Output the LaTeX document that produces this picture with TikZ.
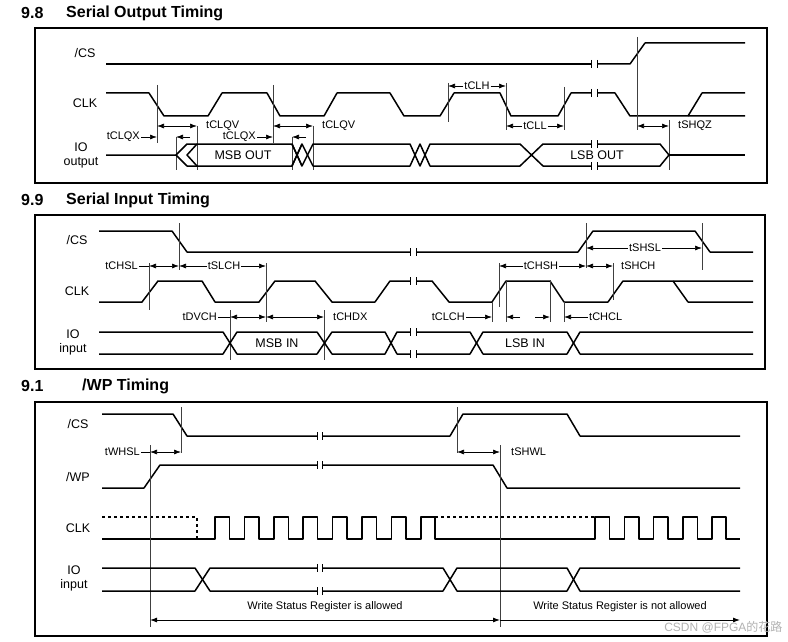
\documentclass[tikz,border=0pt]{standalone}
\usepackage{fontspec}
\setmainfont{Liberation Sans}
\newfontfamily\cjkf{Noto Sans CJK SC}
\usetikzlibrary{arrows.meta}
\begin{document}
\begin{tikzpicture}[x=1pt,y=-1pt,
  sig/.style={line width=1.5pt,line join=round},
  mk/.style={line width=0.7pt,black!75},
  arr/.style={line width=0.7pt,{Latex[length=7pt,width=5pt]}-{Latex[length=7pt,width=5pt]}},
  ra/.style={line width=0.7pt,-{Latex[length=7pt,width=5pt]}},
  box/.style={line width=1.5pt},
  lab/.style={font=\fontsize{12.5}{14}\selectfont},
  tl/.style={font=\fontsize{11}{12}\selectfont,inner sep=1pt},
  ttl/.style={font=\fontsize{16}{17}\selectfont\bfseries,anchor=west,inner sep=0pt}]
\useasboundingbox (0,0) rectangle (788,642);
\newcommand\brk[3]{\draw[line width=0.8pt] (#1,#3-4)--(#1,#3+4) (#2,#3-4)--(#2,#3+4);}
% ================= 9.8 =================
\node[ttl] (t1a) at (21,13) {9.8};
\node[ttl] (t1b) at (66,13) {Serial Output Timing};
\draw[box] (35,28) rectangle (767,183);
\node[lab] (l1a) at (85,53) {/CS};
\node[lab] (l1b) at (85,103) {CLK};
\node[lab,align=center] (l1c) at (81,155) {IO\\output};
% CS
\draw[sig] (106,64)--(591,64);
\draw[sig] (597,64)--(630,64)--(645,43)--(745,43);
\brk{591}{597}{64}
% CLK
\draw[sig] (106,93)--(149,93)--(164,116)--(208,116)--(222,93)--(267,93)--(280,116)--(324,116)--(337,93)--(390,93)--(404,116)--(440,116)--(454,93)--(500,93)--(511,116)--(558,116)--(571,93)--(591,93);
\draw[sig] (597,93)--(615,93)--(630,116)--(745,116);
\draw[sig] (688,116)--(702,93)--(745,93);
\brk{591}{597}{93}
% markers
\draw[mk] (157,85)--(157,143) (273,85)--(273,143) (448,83)--(448,122) (506,83)--(506,130) (564,87)--(564,130) (637,37)--(637,130);
\draw[mk] (176,137)--(176,170) (197,126)--(197,170) (292,137)--(292,170) (313,126)--(313,170) (669,120)--(669,170);
% timing arrows
\draw[arr] (157,126)--(197,126); \node[tl,anchor=west] (q1) at (205,126) {tCLQV};
\draw[arr] (273,126)--(313,126); \node[tl,anchor=west] (q2) at (321,126) {tCLQV};
\node[tl,anchor=east] (x1) at (141,137) {tCLQX};
\draw[ra] (x1.east)--(157,137); \draw[ra] (190,137)--(176,137);
\node[tl,anchor=east] (x2) at (257,137) {tCLQX};
\draw[ra] (x2.east)--(273,137); \draw[ra] (306,137)--(292,137);
\node[tl] (h1) at (477,86) {tCLH};
\draw[ra] (h1.west)--(448,86); \draw[ra] (h1.east)--(506,86);
\node[tl] (h2) at (535,126) {tCLL};
\draw[ra] (h2.west)--(506,126); \draw[ra] (h2.east)--(564,126);
\draw[arr] (637,126)--(669,126); \node[tl,anchor=west] (hz) at (677,126) {tSHQZ};
% IO output
\draw[sig] (106,155)--(176,155)--(187,144)--(292,144)--(302,166)--(313,144)--(410,144)--(420,166)--(430,144)--(520,144)--(543,166)--(591,166);
\draw[sig] (176,155)--(187,166)--(292,166)--(302,144)--(313,166)--(410,166)--(420,144)--(430,166)--(520,166)--(543,144)--(591,144);
\draw[sig] (197,144)--(187,155)--(197,166);
\draw[sig] (292,144)--(302,166) (292,166)--(302,144);
\draw[sig] (597,144)--(660,144)--(669,155)--(660,166)--(597,166);
\draw[sig] (669,155)--(745,155);
\brk{591}{597}{144} \brk{591}{597}{166}
\node[lab] (m1) at (243,155) {MSB OUT};
\node[lab] (m2) at (597,155) {LSB OUT};
% ================= 9.9 =================
\node[ttl] (t2a) at (21,200) {9.9};
\node[ttl] (t2b) at (66,200) {Serial Input Timing};
\draw[box] (35,215) rectangle (765,369);
\node[lab] (l2a) at (77,240) {/CS};
\node[lab] (l2b) at (77,291) {CLK};
\node[lab,align=center] (l2c) at (73,342) {IO\\input};
\draw[sig] (99,231)--(172,231)--(187,252)--(410,252);
\draw[sig] (416,252)--(578,252)--(593,231)--(695,231)--(710,252)--(753,252);
\brk{410}{416}{252}
\draw[sig] (99,302)--(142,302)--(158,281)--(202,281)--(215,302)--(259,302)--(275,281)--(315,281)--(332,302)--(375,302)--(390,281)--(410,281);
\draw[sig] (416,281)--(432,281)--(449,302)--(492,302)--(506,281)--(550,281)--(564,302)--(608,302)--(623,281)--(753,281);
\draw[sig] (673,281)--(688,302)--(753,302);
\brk{410}{416}{281}
% markers
\draw[mk] (179,223)--(179,270) (586,223)--(586,268) (702,223)--(702,270);
\draw[mk] (149,263)--(149,310) (266,263)--(266,322) (499,263)--(499,307) (506,280)--(506,322) (492,302)--(492,322) (550,280)--(550,322) (564,302)--(564,322) (613,263)--(613,300);
\draw[mk] (230,310)--(230,360) (324,310)--(324,360);
% timing
\node[tl,anchor=east] (c1) at (139,266) {tCHSL};
\draw[line width=0.7pt] (c1.east)--(149,266); \draw[arr] (149,266)--(179,266);
\node[tl] (c2) at (224,266) {tSLCH};
\draw[ra] (c2.west)--(179,266); \draw[ra] (c2.east)--(266,266);
\node[tl] (c3) at (645,248) {tSHSL};
\draw[ra] (c3.west)--(586,248); \draw[ra] (c3.east)--(702,248);
\node[tl] (c4) at (541,266) {tCHSH};
\draw[ra] (c4.west)--(499,266); \draw[ra] (c4.east)--(586,266);
\draw[arr] (586,266)--(613,266); \node[tl,anchor=west] (c5) at (620,266) {tSHCH};
\node[tl,anchor=east] (c6) at (466,317) {tCLCH};
\draw[ra] (c6.east)--(492,317); \draw[ra] (520,317)--(506,317);
\draw[ra] (535,317)--(550,317);
\node[tl,anchor=west] (c7) at (588,317) {tCHCL};
\draw[ra] (c7.west)--(564,317);
\node[tl,anchor=east] (c8) at (218,317) {tDVCH};
\draw[line width=0.7pt] (c8.east)--(230,317); \draw[arr] (230,317)--(266,317);
\draw[arr] (266,317)--(324,317); \node[tl,anchor=west] (c9) at (332,317) {tCHDX};
% IO input
\draw[sig] (99,332)--(223,332)--(237,354)--(317,354)--(332,332)--(385,332)--(397,354)--(410,354);
\draw[sig] (99,354)--(223,354)--(237,332)--(317,332)--(332,354)--(385,354)--(397,332)--(410,332);
\draw[sig] (416,332)--(470,332)--(483,354)--(567,354)--(580,332)--(753,332);
\draw[sig] (416,354)--(470,354)--(483,332)--(567,332)--(580,354)--(753,354);
\brk{410}{416}{332} \brk{410}{416}{354}
\node[lab] (m3) at (277,343) {MSB IN};
\node[lab] (m4) at (525,343) {LSB IN};
% ================= 9.1 =================
\node[ttl] (t3a) at (21,386) {9.1};
\node[ttl] (t3b) at (82,386) {/WP Timing};
\draw[box] (35,402) rectangle (767,636);
\node[lab] (l3a) at (78,424) {/CS};
\node[lab] (l3b) at (78,477) {/WP};
\node[lab] (l3c) at (78,528) {CLK};
\node[lab,align=center] (l3d) at (74,578) {IO\\input};
\draw[sig] (102,414)--(173,414)--(187,436)--(317,436);
\draw[sig] (322,436)--(450,436)--(463,414)--(567,414)--(580,436)--(740,436);
\brk{317}{322}{436}
\draw[sig] (102,488)--(144,488)--(160,465)--(317,465);
\draw[sig] (322,465)--(493,465)--(507,488)--(740,488);
\brk{317}{322}{465}
% CLK
\draw[line width=1.2pt,dashed] (102,517)--(197,517)--(197,539);
\draw[line width=1.2pt,dashed] (435,517)--(595,517);
\draw[sig] (102,539)--(215,539)
  \foreach \r in {215,244.4,273.8,303.2,332.6,362,391.4} {--(\r,539)--(\r,517)--(\r+14.5,517)--(\r+14.5,539)}
  --(420.8,539)--(420.8,517)--(435,517)--(435,539)--(595,539)
  \foreach \r in {595,624.3,653.6,682.9} {--(\r,539)--(\r,517)--(\r+14.5,517)--(\r+14.5,539)}
  --(712.2,539)--(712.2,517)--(726,517)--(726,539)--(740,539);
% markers
\draw[mk] (181,407)--(181,453) (457,407)--(457,453) (150,445)--(150,627) (500,445)--(500,627);
\node[tl,anchor=east] (w1) at (141,452) {tWHSL};
\draw[line width=0.7pt] (w1.east)--(150,452); \draw[arr] (150,452)--(181,452);
\draw[arr] (457,452)--(500,452); \node[tl,anchor=west] (w2) at (510,452) {tSHWL};
% IO
\draw[sig] (102,568)--(195,568)--(210,591)--(317,591);
\draw[sig] (102,591)--(195,591)--(210,568)--(317,568);
\draw[sig] (322,568)--(443,568)--(457,591)--(567,591)--(580,568)--(740,568);
\draw[sig] (322,591)--(443,591)--(457,568)--(567,568)--(580,591)--(740,591);
\brk{317}{322}{568} \brk{317}{322}{591}
\draw[arr,line width=0.9pt] (150,620)--(500,620);
\draw[ra,line width=0.9pt] (500,620)--(740,620);
\node[tl] (a1) at (325,607) {Write Status Register is allowed};
\node[tl] (a2) at (620,607) {Write Status Register is not allowed};
\node[font=\fontsize{12}{13}\selectfont,text=black!30,anchor=east] (wm) at (786,627) {CSDN @FPGA{\cjkf 的花路}};
\end{tikzpicture}
\end{document}
